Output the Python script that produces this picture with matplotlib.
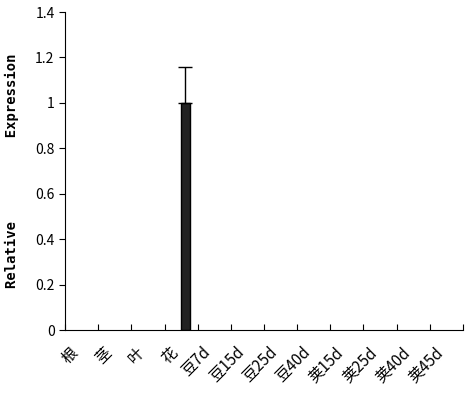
import matplotlib
matplotlib.use("Agg")
import matplotlib.pyplot as plt
import numpy as np

plt.rcParams['font.family'] = ['Noto Sans CJK SC', 'DejaVu Sans']
categories = ['根', '茎', '叶', '花', '豆7d', '豆15d', '豆25d', '豆40d', '荚15d', '荚25d', '荚40d', '荚45d']
values = [0, 0, 0, 1.0, 0, 0, 0, 0, 0, 0, 0, 0]
errors = [0, 0, 0, 0.16, 0, 0, 0, 0, 0, 0, 0, 0]

fig = plt.figure(figsize=(4.74, 4.18), dpi=100)
ax = fig.add_axes([65/474, 1-330/418, 398/474, 318/418])
x = np.arange(len(categories))
shown = [i for i, v in enumerate(values) if v > 0]
ax.bar(x[shown] + 0.12, [values[i] for i in shown], width=0.27, color='#222222',
       edgecolor='black', yerr=[[0]*len(shown), [errors[i] for i in shown]],
       error_kw=dict(ecolor='black', capsize=5, elinewidth=1))
ax.set_xlim(-0.5, len(categories) - 0.5)
ax.set_ylim(0, 1.4)
ax.set_yticks([0, 0.2, 0.4, 0.6, 0.8, 1, 1.2, 1.4])
ax.set_yticklabels(['0', '0.2', '0.4', '0.6', '0.8', '1', '1.2', '1.4'], fontsize=10)
ax.set_xticks(np.arange(len(categories) + 1) - 0.5, minor=False)
ax.set_xticklabels([])
ax.set_xticks(x, minor=True)
ax.set_xticklabels(categories, minor=True, rotation=45, ha='right', fontsize=11)
ax.tick_params(axis='x', which='minor', length=0, pad=10)
ax.tick_params(axis='x', which='major', direction='in', length=4)
ax.tick_params(axis='y', direction='out', length=4)
for s in ['top', 'right']:
    ax.spines[s].set_visible(False)
ax.set_ylabel('Relative          Expression', fontsize=10, fontweight='bold',
              family='DejaVu Sans Mono', labelpad=12)
fig.savefig('out.png', dpi=100)
